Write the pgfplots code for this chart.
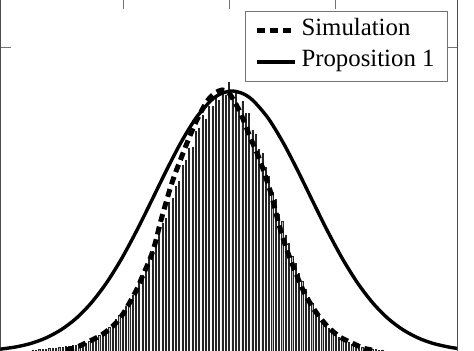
\documentclass[border=0pt]{standalone}
\usepackage{pgfplots}
\pgfplotsset{compat=1.18}
\usepackage{fontspec}
\setmainfont{Liberation Serif}
\begin{document}
\begin{tikzpicture}
\useasboundingbox (0,0) rectangle (237pt,175.5pt);
\clip (0,0) rectangle (237pt,175.5pt);
\begin{axis}[
  at={(0.15pt,-0.5pt)}, anchor=south west,
  scale only axis, width=228.35pt, height=176.75pt,
  xmin=0.3, xmax=457, ymin=0, ymax=353.5,
  xtick={123,229,335}, ytick={304},
  xticklabels={}, yticklabels={},
  major tick length=5.5pt,
  tick style={black!55, line width=0.5pt},
  axis line style={black!70, line width=0.5pt},
  legend style={at={(0.9803,0.965)}, anchor=north east,
    draw=black!55, line width=0.5pt, fill=white,
    inner xsep=4.5pt, inner ysep=2pt, row sep=0pt,
    font=\fontsize{12.4}{14}\selectfont,
    nodes={inner xsep=2pt, inner ysep=2pt, text height=8pt, text depth=3.5pt}},
  legend cell align=left,
  legend image code/.code={\draw[#1] (0pt,0pt) -- (17.5pt,0pt); \path (0pt,0pt) -- (19pt,0pt);},
]
% histogram bars
\addplot[ybar, bar width=1.2, fill=black!25, draw=black!85, line width=0.2pt, forget plot] coordinates {
(29.20,1.2) (32.53,1.7) (35.86,2.1) (39.19,2.5) (42.52,2.9) (45.85,3.2) (49.18,3.6) (52.51,3.9)
(55.84,4.2) (59.17,4.6) (62.50,5.0) (65.83,5.5) (69.16,6.0) (72.49,6.6) (75.82,7.2) (79.15,7.8)
(82.48,8.5) (85.81,9.2) (89.14,10.7) (92.47,12.4) (95.80,14.4) (99.13,16.7) (102.46,19.2) (105.79,22.0)
(109.12,25.0) (112.45,28.5) (115.78,32.3) (119.11,36.5) (122.44,41.0) (125.77,46.0) (129.10,51.4) (132.43,57.2)
(135.76,63.5) (139.09,70.1) (142.42,77.2) (145.75,84.7) (149.08,92.6) (152.41,100.7) (155.74,109.2) (159.07,118.1)
(162.40,129.2) (165.73,133.4) (169.06,149.8) (172.39,153.3) (175.72,165.8) (179.05,170.3) (182.38,186.7) (185.71,191.8)
(189.04,203.6) (192.37,205.0) (195.70,220.9) (199.03,223.5) (202.36,236.3) (205.69,232.6) (209.02,246.0) (212.35,245.7)
(215.68,255.6) (219.01,251.6) (222.34,258.6) (225.67,257.0) (229.00,270.0) (232.33,252.9) (235.66,258.4) (238.99,245.7)
(242.32,250.8) (245.65,238.6) (248.98,238.4) (252.31,222.2) (255.64,218.2) (258.97,202.5) (262.30,199.2) (265.63,184.4)
(268.96,176.2) (272.29,159.9) (275.62,152.7) (278.95,138.2) (282.28,131.2) (285.61,117.2) (288.94,108.7) (292.27,95.6)
(295.60,89.0) (298.93,78.9) (302.26,70.4) (305.59,62.5) (308.92,55.1) (312.25,48.4) (315.58,42.2) (318.91,36.8)
(322.24,31.8) (325.57,27.3) (328.90,23.4) (332.23,19.9) (335.56,16.8) (338.89,15.0) (342.22,13.0) (345.55,11.2)
(348.88,9.6) (352.21,8.2) (355.54,7.0) (358.87,6.0) (362.20,5.0) (365.53,4.2) (368.86,3.5) (372.19,2.9)
(375.52,2.4) (378.85,1.9) (382.18,1.4) (385.51,1.0)
};
% Simulation (dashed)
\addplot[black, line width=2.5pt, dash pattern=on 4pt off 2.5pt, smooth] coordinates {
(66,2) (77,5) (92,12) (103,18) (115,28) (123,38) (130,50) (137,63) (143,77) (150,93) (155,108)
(160,128) (165,146) (170,163) (175,178) (180,191) (187,209) (195,228) (202,242) (208,252) (215,259)
(222,262) (228,260) (233,253) (240,240) (245,228) (250,215) (257,199) (263,183) (267,171) (272,155)
(278,131) (283,114) (288,99) (297,76) (303,62) (310,49) (318,37) (328,25) (340,15) (352,9) (363,4) (372,2)
};
\addlegendentry{Simulation}
% Proposition 1 (solid)
\addplot[black, line width=1.7pt, smooth] coordinates {
(0,2.8) (16,5.1) (31,8.6) (46,14.1) (61,22.2) (76,33.5) (91,48.8) (106,68.4) (121,92.3) (136,120.0)
(151,150.1) (166,180.8) (181,209.6) (196,234.0) (211,251.5) (221,258.3) (232,261.0) (243,258.3)
(253,251.5) (268,234.0) (283,209.6) (298,180.8) (313,150.1) (328,120.0) (343,92.3) (358,68.4)
(373,48.8) (388,33.5) (403,22.2) (418,14.1) (433,8.6) (448,5.1) (457,3.6)
};
\addlegendentry{Proposition 1}
\end{axis}
\end{tikzpicture}
\end{document}
